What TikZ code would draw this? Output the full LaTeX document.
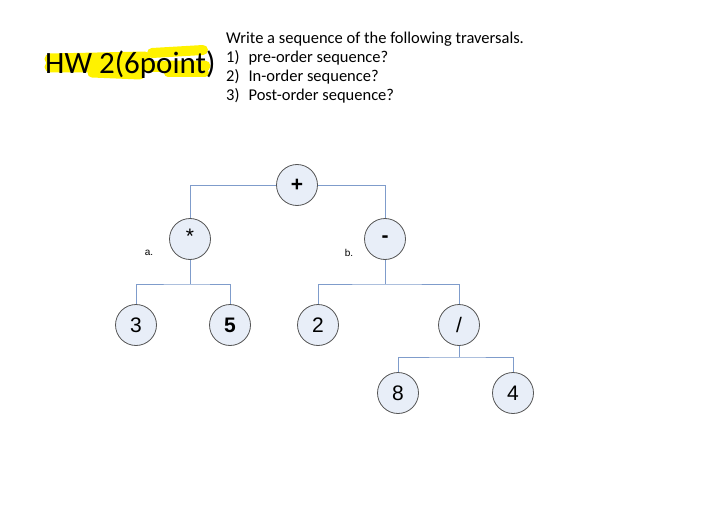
\documentclass[tikz,border=0pt]{standalone}
\usepackage{fontspec}
\setmainfont{Carlito}
\newfontfamily\arialfont{Liberation Sans}
\usetikzlibrary{positioning}

\definecolor{linkblue}{HTML}{7F9CCB}
\definecolor{nodefill}{HTML}{E8EEF8}
\definecolor{nodeline}{HTML}{555555}
\definecolor{marker}{HTML}{FFF200}

\tikzset{
	opnode/.style={circle,draw=nodeline,fill=nodefill,line width=0.8pt,minimum size=41pt,inner sep=0pt,font=\arialfont\fontsize{21}{21}\selectfont},
	link/.style={draw=linkblue,line width=0.9pt},
	tag/.style={font=\arialfont\fontsize{10}{10}\selectfont},
	task/.style={anchor=base west,inner sep=0pt,font=\fontsize{16.5}{16.5}\selectfont}
}

\begin{document}
\begin{tikzpicture}[x=1pt,y=-1pt]
		\useasboundingbox (0,0) rectangle (720,508);
		% highlighter behind the title
		\draw[marker,line width=11pt,line cap=round] (50,59) -- (145,57);
		\draw[marker,line width=11pt,line cap=round] (50,67) -- (205,66);
		\draw[marker,line width=9pt,line cap=round] (92,73) -- (140,75);
		\draw[marker,line width=10pt,line cap=round] (152,53) -- (203,50);
		\draw[marker,line width=8pt,line cap=round] (168,73) -- (205,73);
		\node[anchor=base west,inner sep=0pt,font=\fontsize{31}{31}\selectfont] (title) at (45,74) {HW 2(6point)};
		% question text
		\node[task] (ask) at (226,44) {Write a sequence of the following traversals.};
		\node[task] (q1) at (226,63) {1)\hspace{9pt}pre-order sequence?};
		\node[task] (q2) at (226,82) {2)\hspace{9pt}In-order sequence?};
		\node[task] (q3) at (226,101) {3)\hspace{9pt}Post-order sequence?};
		% expression tree
		\node[opnode] (plus) at (297,185) {\textbf{+}};
		\node[opnode] (mul) at (190,239) {\raisebox{6pt}{*}};
		\node[opnode] (minus) at (385,239) {\textbf{-}};
		\node[opnode] (three) at (136,325) {3};
		\node[opnode] (five) at (230,325) {\textbf{5}};
		\node[opnode] (two) at (318,325) {2};
		\node[opnode] (div) at (459,325) {/};
		\node[opnode] (eight) at (398,393) {8};
		\node[opnode] (four) at (513,393) {4};
		\node[tag] (taga) at (149,253) {a.};
		\node[tag] (tagb) at (349,253) {b.};
		\coordinate (mulj) at (190,284);
		\coordinate (minusj) at (385,284);
		\coordinate (divj) at (459,357);
		\draw[link] (plus.west) -| (mul.north);
		\draw[link] (plus.east) -| (minus.north);
		\draw[link] (mul.south) -- (mulj);
		\draw[link] (three.north) |- (mulj) -| (five.north);
		\draw[link] (minus.south) -- (minusj);
		\draw[link] (two.north) |- (minusj) -| (div.north);
		\draw[link] (div.south) -- (divj);
		\draw[link] (eight.north) |- (divj) -| (four.north);
\end{tikzpicture}
\end{document}
